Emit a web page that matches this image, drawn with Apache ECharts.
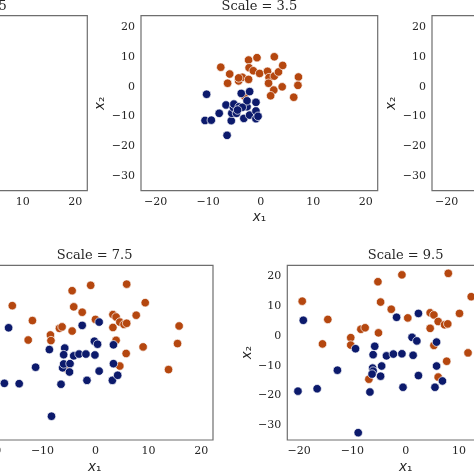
<!DOCTYPE html>
<html>
<head>
<meta charset="utf-8">
<script src="https://cdn.jsdelivr.net/npm/echarts@6/dist/echarts.min.js"></script>
<style>
  html, body { margin: 0; padding: 0; background: #fff; }
  #chart { width: 474px; height: 474px; }
</style>
</head>
<body>
<div id="chart"></div>
<script>
// 面板标题
const titles = ['Scale = 1.5', 'Scale = 3.5', 'Scale = 5.5', 'Scale = 7.5', 'Scale = 9.5']
// 刻度
const xTicks = [-20, -10, 0, 10, 20]
const yTicks = [-30, -20, -10, 0, 10, 20]

// Scale = 3.5
const s35Orange = [
  [-7.6, 6.6], [-5.9, 4.3], [-6.3, 1.2], [-4.2, 2.0], [-3.5, 3.2], [-2.3, 9.0], [-2.2, 6.4],
  [-1.4, 5.4], [-2.3, 2.5], [-0.7, 9.8], [-0.2, 4.5], [1.3, 5.2], [1.6, 3.1], [1.5, 1.2],
  [2.6, 10.1], [2.6, 3.6], [3.4, 5.0], [4.2, 7.2], [2.5, -1.1], [4.1, 0.0], [1.9, -3.0],
  [7.2, 3.3], [7.1, 0.5], [6.3, -3.5], [-3.1, -3.1], [-4.2, 3.0]
]
const s35Blue = [
  [-10.3, -2.5], [-10.6, -11.3], [-9.4, -11.2], [-7.9, -8.9], [-6.6, -6.1], [-6.4, -16.3],
  [-5.6, -11.4], [-5.5, -8.9], [-5.2, -6.9], [-5.1, -5.8], [-4.1, -6.7], [-4.6, -8.9],
  [-3.7, -2.2], [-3.2, -10.6], [-2.6, -6.7], [-2.6, -4.7], [-2.1, -1.6], [-2.1, -9.5],
  [-0.9, -5.2], [-0.9, -8.1], [-0.9, -10.7], [-0.5, -9.9], [-3.5, -6.9], [-4.4, -7.8]
]

// Scale = 7.5
const s75Orange = [
  [-15.7, 10.1], [-11.9, 5.1], [-12.7, -1.4], [-8.5, 0.3], [-8.4, -1.6], [-6.8, 2.5], [-6.3, 3.0],
  [-4.4, 15.1], [-4.1, 9.7], [-4.4, 1.6], [-2.5, 7.9], [-0.9, 16.9], [0.0, 5.5], [3.3, 7.1],
  [3.9, 6.3], [4.6, 4.6], [5.4, 3.8], [5.9, 4.2], [3.3, 2.8], [5.9, 17.3], [7.7, 6.9],
  [9.4, 11.1], [3.9, -1.5], [5.8, -5.9], [9.0, -3.7], [4.6, -10.1], [13.8, -11.3],
  [15.8, 3.3], [15.5, -2.6], [-5.6, -10.9]
]
const s75Blue = [
  [-16.4, 2.7], [-17.2, -15.9], [-14.4, -16.0], [-11.3, -10.5], [-8.7, -4.6], [-8.3, -26.9],
  [-6.5, -16.2], [-5.8, -4.1], [-6.0, -6.3], [-6.2, -10.7], [-6.0, -9.4], [-4.8, -9.3],
  [-4.9, -12.1], [-4.1, -6.7], [-3.1, -6.1], [-1.8, -6.1], [-2.5, 3.5], [-1.6, -14.9],
  [-0.2, -1.8], [0.4, -2.8], [-0.1, -6.4], [0.7, 4.6], [0.7, -11.8], [3.4, -3.0],
  [3.4, -9.3], [3.2, -14.9], [4.2, -13.2]
]

// Scale = 9.5
const s95Orange = [
  [-19.4, 11.6], [-14.6, 5.5], [-15.6, -2.7], [-10.3, -0.6], [-10.3, -3.1], [-8.4, 2.2],
  [-7.6, 2.7], [-5.2, 18.1], [-4.7, 11.3], [-5.1, 1.0], [-2.7, 8.9], [-0.7, 20.4], [0.4, 6.0],
  [-6.9, -14.5], [4.6, 7.7], [5.3, 7.0], [6.1, 4.8], [7.3, 3.7], [7.9, 4.0], [8.0, 20.9],
  [4.6, 2.5], [5.3, -3.2], [10.1, 7.5], [12.3, 13.1], [11.7, -5.7], [7.7, -8.5], [6.1, -13.8]
]
const s95Blue = [
  [-19.2, 5.2], [-20.2, -18.5], [-16.6, -17.7], [-12.8, -11.5], [-9.4, -4.3], [-8.9, -32.4],
  [-6.7, -18.8], [-5.8, -3.5], [-6.1, -6.3], [-6.2, -10.8], [-6.1, -11.8], [-6.3, -12.8],
  [-4.5, -10.1], [-4.7, -13.5], [-3.6, -6.7], [-2.3, -6.1], [-1.7, 6.2], [-0.7, -6.0],
  [-0.5, -17.2], [1.2, -0.5], [2.1, -1.7], [1.4, -6.5], [2.4, 7.5], [2.4, -13.3],
  [5.8, -2.1], [5.8, -10.1], [5.5, -17.2], [6.9, -15.1]
]

const ORANGE = '#b5470f'
const BLUE = '#0c1a6c'
const W = 236.7

// 各面板的位置和坐标范围
const panels = [
  { left: -149.4, top: 15.7, h: 175, x: [-22.8, 22.3], y: [-34.9, 23.9], sets: [] },
  { left: 141, top: 15.7, h: 175, x: [-22.8, 22.3], y: [-34.9, 23.9], sets: [s35Orange, s35Blue] },
  { left: 432, top: 15.7, h: 175, x: [-22.8, 22.3], y: [-34.9, 23.9], sets: [] },
  { left: -23.7, top: 265.3, h: 174.7, x: [-22.5, 22.2], y: [-34.85, 23.6], sets: [s75Orange, s75Blue] },
  { left: 287.3, top: 265.3, h: 174.7, x: [-22.2, 22.2], y: [-34.85, 23.6], sets: [s95Orange, s95Blue] }
]

const fmt = v => String(v).replace('-', '\u2212')
const labelStyle = { color: '#262626', fontFamily: 'DejaVu Serif', fontSize: 11 }
const nameRich = {
  i: { fontFamily: 'DejaVu Sans', fontStyle: 'italic', fontSize: 13.5, color: '#262626' },
  s: { fontFamily: 'DejaVu Sans', fontSize: 13.5, color: '#262626' }
}

const myChart = echarts.init(document.querySelector('#chart'), null, { renderer: 'canvas' })

const option = {
  animation: false,
  backgroundColor: '#fff',
  title: panels.map((p, i) => ({
    text: titles[i],
    left: p.left + W / 2,
    top: p.top - 16,
    textAlign: 'center',
    padding: 0,
    textStyle: { fontFamily: 'DejaVu Serif', fontSize: 13, fontWeight: 'normal', color: '#262626' }
  })),
  grid: panels.map(p => ({
    left: p.left, top: p.top, width: W, height: p.h,
    outerBoundsMode: 'none', containLabel: false,
    show: true, borderColor: '#6e6e6e', borderWidth: 1.2, backgroundColor: '#fff'
  })),
  xAxis: panels.map((p, i) => ({
    type: 'value', gridIndex: i, min: p.x[0], max: p.x[1],
    name: '{i|x}{s|\u2081}', nameLocation: 'middle', nameGap: 20,
    nameTextStyle: { rich: nameRich },
    axisLine: { show: false }, axisTick: { show: false }, splitLine: { show: false },
    axisLabel: { ...labelStyle, margin: 6, customValues: xTicks, formatter: fmt }
  })),
  yAxis: panels.map((p, i) => ({
    type: 'value', gridIndex: i, min: p.y[0], max: p.y[1],
    name: '{i|x}{s|\u2082}', nameLocation: 'middle', nameGap: 33, nameRotate: 90,
    nameTextStyle: { rich: nameRich },
    axisLine: { show: false }, axisTick: { show: false }, splitLine: { show: false },
    axisLabel: { ...labelStyle, margin: 6, customValues: yTicks, formatter: fmt }
  })),
  series: []
}

panels.forEach((p, i) => {
  p.sets.forEach((data, k) => {
    option.series.push({
      type: 'scatter', xAxisIndex: i, yAxisIndex: i, data,
      symbolSize: 8.5,
      itemStyle: { color: k === 0 ? ORANGE : BLUE, borderColor: '#fff', borderWidth: 0.7, opacity: 1 }
    })
  })
})

myChart.setOption(option)
</script>
</body>
</html>
